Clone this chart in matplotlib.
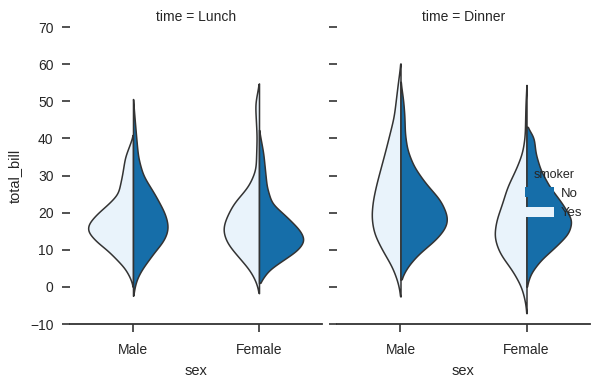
import matplotlib
matplotlib.use("Agg")
import matplotlib.pyplot as plt
from matplotlib.patches import Patch
import numpy as np

plt.rcParams['font.family'] = ['Liberation Sans', 'DejaVu Sans']
plt.rcParams['text.color'] = '#262626'
plt.rcParams['axes.labelcolor'] = '#262626'
plt.rcParams['xtick.color'] = '#262626'
plt.rcParams['ytick.color'] = '#262626'

times = ['Lunch', 'Dinner']
sexes = ['Male', 'Female']
smokers = ['No', 'Yes']
dark_blue = '#166ea9'
light_blue = '#e9f3fb'

# violin outlines: (total_bill levels, half width in x units)
# Yes half drawn on the left, No half on the right
lunch_male_yes_y = [41, 40, 35, 30, 25, 22, 20, 17, 15, 12, 10, 7, 5, 2, 0]
lunch_male_yes_w = [0, 1, 8, 11, 15, 26, 35, 45, 46, 36, 26, 15, 8, 2, 0]
lunch_male_no_y = [50.6, 45, 40, 35, 30, 25, 20, 17, 15, 12, 10, 7, 5, 2, 0, -2.4]
lunch_male_no_w = [0, 1.7, 3.3, 5, 10, 21.7, 31.7, 35, 35, 30, 23, 15, 9.3, 3.3, 1.7, 0]

lunch_female_yes_y = [54.8, 49.4, 40.5, 31.5, 27, 22.5, 18, 15.3, 11.7, 8.1, 4.5, 1, -1.7]
lunch_female_yes_w = [0, 4, 2.3, 3.3, 10.7, 25.7, 34, 36.7, 32, 20.7, 9, 2.3, 0]
lunch_female_no_y = [42.3, 36, 31.5, 27, 22.5, 18.9, 15.3, 12.6, 9.9, 7.2, 4.5, 1.8, 1]
lunch_female_no_w = [0, 4.3, 6, 7.7, 12.7, 27.7, 41, 46, 39, 24, 9.3, 2.7, 0]

dinner_male_yes_y = [60.2, 54.8, 45.8, 36.9, 27.9, 23.4, 18.9, 14.4, 9.9, 5.4, 1, -2.6]
dinner_male_yes_w = [0, 2.7, 6.7, 15, 24, 27.7, 29.3, 26.7, 18.3, 8.3, 2.3, 0]
dinner_male_no_y = [55.3, 50.3, 45.8, 41.4, 36.9, 32.4, 27.9, 23.4, 18.9, 16.2, 12.6, 9, 5.4, 1.9]
dinner_male_no_w = [0, 2.7, 4, 4.3, 6.7, 13.3, 25, 40, 47.3, 46, 35, 18.3, 6.7, 0]

dinner_female_yes_y = [54.4, 49.4, 40.5, 36, 31.5, 27, 22.5, 18, 13.5, 9, 4.5, 0, -4.4, -7.1]
dinner_female_yes_w = [0, 1, 1.7, 4.3, 11, 19.3, 24.3, 30.3, 32.7, 27, 14.3, 5, 1, 0]
dinner_female_no_y = [43.2, 40.5, 36, 31.5, 27, 22.5, 18, 14.4, 10.8, 7.2, 3.6, 0]
dinner_female_no_w = [0, 7.3, 9, 14, 23, 35.7, 45.7, 42.3, 29, 14, 4, 0]

violins = {
    ('Lunch', 'Male'): (lunch_male_yes_y, lunch_male_yes_w, lunch_male_no_y, lunch_male_no_w),
    ('Lunch', 'Female'): (lunch_female_yes_y, lunch_female_yes_w, lunch_female_no_y, lunch_female_no_w),
    ('Dinner', 'Male'): (dinner_male_yes_y, dinner_male_yes_w, dinner_male_no_y, dinner_male_no_w),
    ('Dinner', 'Female'): (dinner_female_yes_y, dinner_female_yes_w, dinner_female_no_y, dinner_female_no_w),
}
width_scale = 126.0  # widths were read in pixels, 126 px per category step


def smooth_outline(ys, ws):
    # smooth the read outline a little so it looks like a kde curve
    ys = np.asarray(ys, float)[::-1]
    ws = np.asarray(ws, float)[::-1] / width_scale
    yy = np.linspace(ys[0], ys[-1], 300)
    ww = np.interp(yy, ys, ws)
    n = 24
    k = np.exp(-0.5 * (np.arange(-n, n + 1) / 8.0) ** 2)
    k /= k.sum()
    pad = np.pad(ww, n, mode='constant')
    ww = np.convolve(pad, k, mode='same')[n:-n]
    ww[0] = 0
    ww[-1] = 0
    return yy, ww


fig = plt.figure(figsize=(5.97, 3.88), dpi=100)
ax1 = fig.add_axes([70 / 597, 64 / 388, 252 / 597, 297 / 388])
ax2 = fig.add_axes([337.5 / 597, 64 / 388, 252 / 597, 297 / 388], sharey=ax1)

for ax, t in zip([ax1, ax2], times):
    for i, s in enumerate(sexes):
        yy_y, yw, ny, nw = violins[(t, s)]
        y1, w1 = smooth_outline(yy_y, yw)
        ax.fill_betweenx(y1, i - w1, i, facecolor=light_blue, edgecolor='#333333', lw=1.1)
        y2, w2 = smooth_outline(ny, nw)
        ax.fill_betweenx(y2, i, i + w2, facecolor=dark_blue, edgecolor='#333333', lw=1.1)
    ax.set_xlim(-0.5, 1.5)
    ax.set_ylim(-10, 70)
    ax.set_xticks(range(len(sexes)))
    ax.set_xticklabels(sexes, fontsize=10)
    ax.set_xlabel('sex', fontsize=10.5, labelpad=5)
    ax.set_title('time = ' + t, fontsize=10, pad=4)
    for sp in ['top', 'right', 'left']:
        ax.spines[sp].set_visible(False)
    ax.spines['bottom'].set_color('#333333')
    ax.spines['bottom'].set_linewidth(1.3)
    ax.tick_params(axis='both', direction='out', length=5.8, width=1.2, color='#333333',
                   labelsize=10, pad=6)
    ax.tick_params(axis='x', pad=8)
    ax.set_facecolor('white')

ax1.set_yticks(range(-10, 71, 10))
ax1.set_ylabel('total_bill', fontsize=10.5, labelpad=6)
ax2.tick_params(axis='y', labelleft=False)

handles = [Patch(facecolor=dark_blue, edgecolor='none'), Patch(facecolor=light_blue, edgecolor='none')]
leg = fig.legend(handles, smokers, title='smoker', loc='center left', bbox_to_anchor=(0.86, 0.5),
                 frameon=False, fontsize=9.5, title_fontsize=9, handlelength=2.2, handleheight=0.8,
                 handletextpad=0.5)

fig.savefig('out.png', dpi=100)
